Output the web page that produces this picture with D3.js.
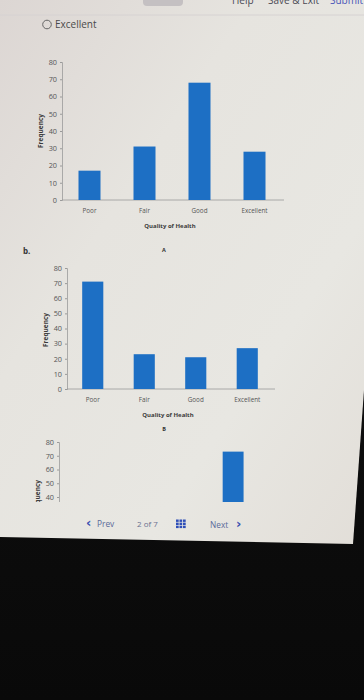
<!DOCTYPE html>
<html><head><meta charset="utf-8">
<script src="https://cdn.jsdelivr.net/npm/d3@7"></script>
<style>
html,body{margin:0;padding:0;background:#0d0d0d;}
svg{display:block;}
</style></head>
<body>
<svg id="c" width="364" height="700"></svg>
<script>
const categories = ["Poor", "Fair", "Good", "Excellent"];
const valuesTop = [17, 31, 68, 28];
const valuesA = [71, 23, 21, 27];
const valuesB = [20, 24, 30, 73];
const yTicks = [0, 10, 20, 30, 40, 50, 60, 70, 80];
const toolbarLabels = ["Help", "Save & Exit", "Submit"];
const navLabels = ["Prev", "2 of 7", "Next"];

const svg = d3.select("#c");
const defs = svg.append("defs");
const grad = defs.append("linearGradient").attr("id","bg").attr("x1","0").attr("y1","0").attr("x2","1").attr("y2","1");
grad.append("stop").attr("offset","0").attr("stop-color","#dcd6d3");
grad.append("stop").attr("offset","0.35").attr("stop-color","#e6e4df");
grad.append("stop").attr("offset","0.7").attr("stop-color","#e8e7e2");
grad.append("stop").attr("offset","1").attr("stop-color","#e2ded8");

const dark = defs.append("linearGradient").attr("id","dk").attr("x1","0").attr("y1","0").attr("x2","0").attr("y2","1");
dark.append("stop").attr("offset","0").attr("stop-color","#141414");
dark.append("stop").attr("offset","1").attr("stop-color","#090909");
svg.append("rect").attr("width",364).attr("height",700).attr("fill","url(#dk)");

svg.append("path").attr("d","M0,0 L364,0 L364,390 L353,544 L0,537 Z").attr("fill","url(#bg)");

// toolbar
svg.append("rect").attr("x",143).attr("y",-8).attr("width",40).attr("height",14).attr("rx",4).attr("fill","#c4c0c2");
const tbX = [232, 268, 330];
toolbarLabels.forEach((t,i)=>{
  svg.append("text").attr("x",tbX[i]).attr("y",3.5).text(t)
    .attr("font-family","Open Sans, sans-serif").attr("font-size",10)
    .attr("fill", i===2 ? "#4a55b8" : "#4a4a55");
});
svg.append("line").attr("x1",0).attr("x2",364).attr("y1",15).attr("y2",15).attr("stroke","#d6d2d2").attr("stroke-width",1);

// radio
svg.append("circle").attr("cx",47).attr("cy",24.5).attr("r",4.3).attr("fill","none").attr("stroke","#666").attr("stroke-width",1);
svg.append("text").attr("x",55).attr("y",28).text("Excellent")
  .attr("font-family","Open Sans, sans-serif").attr("font-size",10).attr("fill","#4a4a4a");

const barColor = "#1d6fc4";

function chart(opts){
  const g = svg.append("g");
  if (opts.clip) {
    const id = "clip"+opts.id;
    defs.append("clipPath").attr("id",id).append("rect").attr("x",0).attr("y",0).attr("width",364).attr("height",opts.clip);
    g.attr("clip-path","url(#"+id+")");
  }
  const y = d3.scaleLinear().domain([0,80]).range([opts.y0, opts.y80]);
  const x = d3.scaleBand().domain(categories).range([opts.x0, opts.x1]).paddingInner(opts.pad).paddingOuter(opts.pad/2);
  const yAxis = d3.axisLeft(y).tickValues(yTicks).tickSize(2).tickPadding(3).tickFormat(d3.format("d"));
  const ya = g.append("g").attr("transform","translate("+opts.x0+",0)").call(yAxis);
  ya.select(".domain").attr("stroke","#9a9a9a").attr("stroke-width",0.8);
  ya.selectAll(".tick line").attr("stroke","#9a9a9a");
  ya.selectAll("text").attr("font-family","Open Sans, sans-serif").attr("font-size",7.3).attr("fill","#555");
  const xAxis = d3.axisBottom(x).tickSize(0).tickPadding(9);
  const xa = g.append("g").attr("transform","translate(0,"+opts.y0+")").call(xAxis);
  xa.select(".domain").attr("stroke","#9a9a9a").attr("stroke-width",0.8).attr("d","M"+opts.x0+",0H"+(opts.x1+2));
  xa.selectAll("text").attr("font-family","Open Sans, sans-serif").attr("font-size",6.3).attr("fill","#555");
  g.selectAll(".bar").data(opts.values).enter().append("rect")
    .attr("x",(d,i)=>x(categories[i])).attr("width",x.bandwidth())
    .attr("y",d=>y(d)).attr("height",d=>y(0)-y(d)).attr("fill",barColor);
  if (opts.xTitle) g.append("text").attr("x",(opts.x0+opts.x1)/2 - 2).attr("y",opts.y0+28).attr("text-anchor","middle").text("Quality of Health")
    .attr("font-family","Open Sans, sans-serif").attr("font-size",6).attr("font-weight","bold").attr("fill","#3a3a3a");
  g.append("text").attr("transform","translate("+(opts.x0-19)+","+opts.yTitle+") rotate(-90)").attr("text-anchor","middle").text("Frequency")
    .attr("font-family","Open Sans, sans-serif").attr("font-size",6.5).attr("font-weight","bold").attr("fill","#3a3a3a");
}

chart({id:1, values:valuesTop, x0:62, x1:282, y0:200, y80:62, pad:0.6, xTitle:true, yTitle:131});
svg.append("text").attr("x",23).attr("y",254).text("b.").attr("font-family","Open Sans, sans-serif").attr("font-size",8).attr("font-weight","bold").attr("fill","#333");
svg.append("text").attr("x",164).attr("y",252).attr("text-anchor","middle").text("A").attr("font-family","Open Sans, sans-serif").attr("font-size",5.5).attr("font-weight","bold").attr("fill","#333");
chart({id:2, values:valuesA, x0:67, x1:273, y0:389, y80:268, pad:0.59, xTitle:true, yTitle:330});
svg.append("text").attr("x",164).attr("y",431).attr("text-anchor","middle").text("B").attr("font-family","Open Sans, sans-serif").attr("font-size",5.5).attr("font-weight","bold").attr("fill","#333");
chart({id:3, values:valuesB, x0:59, x1:258, y0:552, y80:442, pad:0.58, xTitle:false, yTitle:497, clip:502});

// nav bar
const navY = 527;
svg.append("text").attr("x",86).attr("y",navY).text("\u2039").attr("font-family","DejaVu Sans, sans-serif").attr("font-size",13).attr("font-weight","bold").attr("fill","#3a4fb0");
svg.append("text").attr("x",97).attr("y",navY).text(navLabels[0]).attr("font-family","Open Sans, sans-serif").attr("font-size",8.3).attr("fill","#5a6a9a");
svg.append("text").attr("x",137).attr("y",navY).text(navLabels[1]).attr("font-family","Open Sans, sans-serif").attr("font-size",8).attr("fill","#6a7090");
const grid = svg.append("g").attr("transform","translate(176,519.5)");
d3.range(9).forEach(i=>{
  grid.append("rect").attr("x",(i%3)*3.5).attr("y",Math.floor(i/3)*3.1).attr("width",2.7).attr("height",2.4).attr("fill","#2f4fb8");
});
svg.append("text").attr("x",210).attr("y",navY+1).text(navLabels[2]).attr("font-family","Open Sans, sans-serif").attr("font-size",8.3).attr("fill","#5a6a9a");
svg.append("text").attr("x",236).attr("y",navY+1).text("\u203A").attr("font-family","DejaVu Sans, sans-serif").attr("font-size",13).attr("font-weight","bold").attr("fill","#3a4fb0");
</script>
</body></html>
